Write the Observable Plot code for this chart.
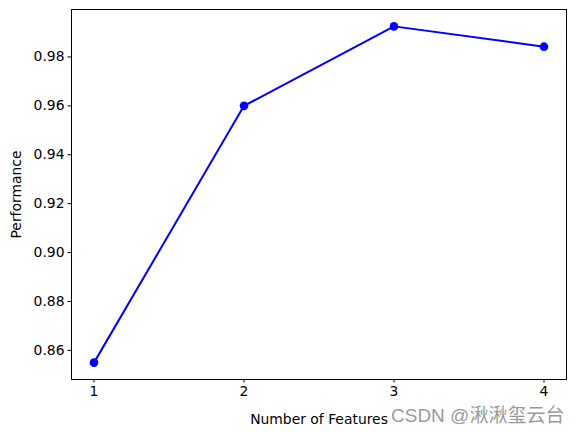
<!DOCTYPE html>
<html>
<head>
<meta charset="utf-8">
<script src="https://cdn.jsdelivr.net/npm/d3@7"></script>
<script src="https://cdn.jsdelivr.net/npm/@observablehq/plot@0.6"></script>
<style>
  html, body { margin: 0; padding: 0; background: #fff; }
  #wrap { position: relative; width: 576px; height: 432px; }
  #wm { position: absolute; left: 391px; top: 400px; font-family: "Liberation Sans", "Noto Sans CJK SC", sans-serif; font-size: 19px; color: #9a9a9a; white-space: nowrap; }
</style>
</head>
<body>
<div id="wrap"><div id="wm">CSDN @湫湫玺云台</div></div>
<script>
const features = [1, 2, 3, 4];
const performance = [0.855, 0.960, 0.9925, 0.9842];
const xTicks = [1, 2, 3, 4];
const yTicks = [0.86, 0.88, 0.90, 0.92, 0.94, 0.96, 0.98];
const xLabel = "Number of Features";
const yLabel = "Performance";

const data = features.map((f, i) => ({f, p: performance[i]}));

const chart = Plot.plot({
  width: 576,
  height: 432,
  marginTop: 9,
  marginBottom: 53,
  marginLeft: 71,
  marginRight: 10,
  style: {fontFamily: "DejaVu Sans, sans-serif", fontSize: "13.9px", background: "white", color: "black"},
  x: {domain: [0.85, 4.15]},
  y: {domain: [0.8481, 0.9994]},
  marks: [
    Plot.frame({stroke: "black", strokeWidth: 1}),
    Plot.axisX({ticks: xTicks, tickSize: 3.5, tickPadding: 3.5, tickFormat: d => String(d), label: xLabel, labelAnchor: "center", labelOffset: 44, labelArrow: "none", fontSize: "13.9px"}),
    Plot.axisY({ticks: yTicks, tickSize: 3.5, tickPadding: 3.5, tickFormat: d3.format(".2f"), label: yLabel, labelAnchor: "center", labelOffset: 60, labelArrow: "none", fontSize: "13.9px"}),
    Plot.line(data, {x: "f", y: "p", stroke: "blue", strokeWidth: 2}),
    Plot.dot(data, {x: "f", y: "p", fill: "blue", r: 4.3})
  ]
});
document.getElementById("wrap").prepend(chart);
</script>
</body>
</html>
